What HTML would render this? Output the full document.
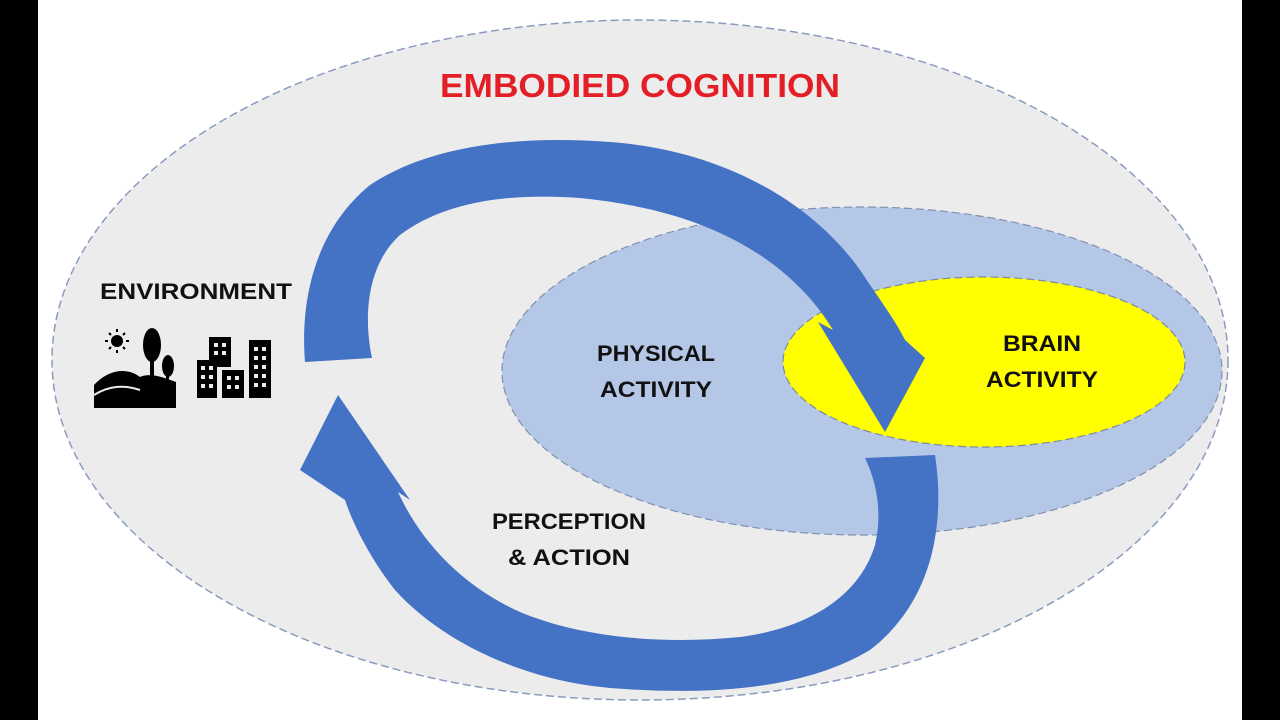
<!DOCTYPE html>
<html><head><meta charset="utf-8"><style>
html,body{margin:0;padding:0;background:#000;}
svg{display:block}
text{font-family:"Liberation Sans",sans-serif;font-weight:bold;}
</style></head><body>
<svg width="1280" height="720" viewBox="0 0 1280 720" xmlns="http://www.w3.org/2000/svg">
<rect x="0" y="0" width="1280" height="720" fill="#000"/>
<rect x="38" y="0" width="1204" height="720" fill="#fff"/>
<ellipse cx="640" cy="360" rx="588" ry="340" fill="#ececec" stroke="#8a9bc0" stroke-width="1.5" stroke-dasharray="8 4"/>
<ellipse cx="862" cy="371" rx="360" ry="164" fill="#b4c7e7" stroke="#8090b0" stroke-width="1.2" stroke-dasharray="8 4"/>
<ellipse cx="984" cy="362" rx="201" ry="85" fill="#ffff00" stroke="#7a8aa0" stroke-width="1.2" stroke-dasharray="8 4"/>
<text x="640" y="97" font-size="33" fill="#e41e26" text-anchor="middle" textLength="400" lengthAdjust="spacingAndGlyphs">EMBODIED COGNITION</text>
<!-- top arrow -->
<path fill="#4472c4" d="M305,362 C300,300 315,230 370,185 C430,145 520,135 610,142 C720,150 810,200 860,270 C880,300 895,320 905,340 L925,358 L885,432 L818,322 L833,330 C815,300 790,275 760,255 C710,222 650,205 580,198 C500,192 440,205 400,235 C370,262 362,310 372,358 Z"/>
<!-- bottom arrow -->
<path fill="#4472c4" d="M865,458 L935,455 C945,520 935,600 870,650 C800,692 700,695 610,688 C520,680 440,640 395,590 C375,565 355,530 345,500 L300,470 L338,395 L410,500 L398,492 C420,540 460,585 520,612 C580,637 660,645 740,637 C810,628 860,595 875,545 C882,515 878,485 865,458 Z"/>
<text x="196" y="299" font-size="22" fill="#111" text-anchor="middle" textLength="192" lengthAdjust="spacingAndGlyphs">ENVIRONMENT</text>
<text x="656" y="361" font-size="22" fill="#111" text-anchor="middle" textLength="118" lengthAdjust="spacingAndGlyphs">PHYSICAL</text>
<text x="656" y="397" font-size="22" fill="#111" text-anchor="middle" textLength="112" lengthAdjust="spacingAndGlyphs">ACTIVITY</text>
<text x="1042" y="351" font-size="22" fill="#111" text-anchor="middle" textLength="78" lengthAdjust="spacingAndGlyphs">BRAIN</text>
<text x="1042" y="387" font-size="22" fill="#111" text-anchor="middle" textLength="112" lengthAdjust="spacingAndGlyphs">ACTIVITY</text>
<text x="569" y="529" font-size="22" fill="#111" text-anchor="middle" textLength="154" lengthAdjust="spacingAndGlyphs">PERCEPTION</text>
<text x="569" y="565" font-size="22" fill="#111" text-anchor="middle" textLength="122" lengthAdjust="spacingAndGlyphs">&amp; ACTION</text>
<!-- landscape icon -->
<g fill="#000">
<circle cx="117" cy="341" r="6"/>
<g stroke="#000" stroke-width="2"><line x1="117" y1="329" x2="117" y2="332"/><line x1="117" y1="350" x2="117" y2="353"/><line x1="105" y1="341" x2="108" y2="341"/><line x1="126" y1="341" x2="129" y2="341"/><line x1="109" y1="333" x2="111" y2="335"/><line x1="123" y1="347" x2="125" y2="349"/><line x1="125" y1="333" x2="123" y2="335"/><line x1="109" y1="349" x2="111" y2="347"/></g>
<ellipse cx="152" cy="345" rx="9" ry="17"/>
<rect x="150" y="355" width="4" height="25"/>
<ellipse cx="168" cy="366" rx="6" ry="11"/>
<rect x="166" y="370" width="3" height="15"/>
<path d="M94,385 C110,368 128,368 140,377 C150,372 165,378 176,382 L176,408 L94,408 Z"/>
<path d="M94,395 C110,385 125,385 140,390" stroke="#ececec" stroke-width="2" fill="none"/>
</g>
<!-- buildings icon -->
<g fill="#000">
<rect x="209" y="337" width="22" height="30"/>
<rect x="197" y="360" width="20" height="38"/>
<rect x="222" y="370" width="22" height="28"/>
<rect x="249" y="340" width="22" height="58"/>
</g>
<g fill="#ececec">
<rect x="214" y="343" width="4" height="4"/><rect x="222" y="343" width="4" height="4"/>
<rect x="214" y="351" width="4" height="4"/><rect x="222" y="351" width="4" height="4"/>
<rect x="201" y="366" width="4" height="4"/><rect x="209" y="366" width="4" height="4"/>
<rect x="201" y="375" width="4" height="4"/><rect x="209" y="375" width="4" height="4"/>
<rect x="201" y="384" width="4" height="4"/><rect x="209" y="384" width="4" height="4"/>
<rect x="227" y="376" width="4" height="4"/><rect x="235" y="376" width="4" height="4"/>
<rect x="227" y="385" width="4" height="4"/><rect x="235" y="385" width="4" height="4"/>
<rect x="254" y="347" width="4" height="4"/><rect x="262" y="347" width="4" height="4"/>
<rect x="254" y="356" width="4" height="4"/><rect x="262" y="356" width="4" height="4"/>
<rect x="254" y="365" width="4" height="4"/><rect x="262" y="365" width="4" height="4"/>
<rect x="254" y="374" width="4" height="4"/><rect x="262" y="374" width="4" height="4"/>
<rect x="254" y="383" width="4" height="4"/><rect x="262" y="383" width="4" height="4"/>
</g>
</svg>
</body></html>
